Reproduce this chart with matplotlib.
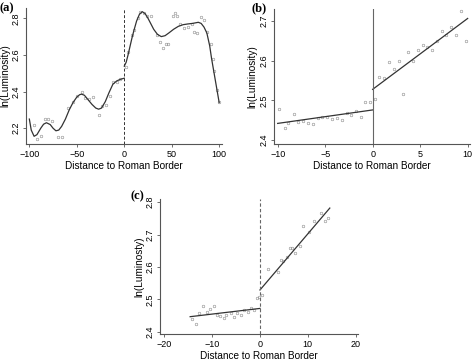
import numpy as np
import matplotlib.pyplot as plt

plt.rcParams['font.family'] = ['Liberation Sans', 'DejaVu Sans']

# ---- panel (a): full window, smoothed fit + binned means
a_pts_x = [-95, -92, -88, -84, -80, -76, -70, -66, -59, -54, -50, -45, -41, -37, -33,
           -27, -23, -19, -15, -12, -8, -4,
           2, 4, 8, 10, 14, 17, 21, 24, 28, 34, 38, 41, 44, 46, 51, 53, 56, 59,
           63, 67, 71, 74, 77, 81, 84, 87, 91, 93, 95, 98, 100]
a_pts_y = [2.22, 2.14, 2.155, 2.25, 2.25, 2.24, 2.15, 2.15, 2.31, 2.345, 2.376, 2.395, 2.364, 2.36, 2.37,
           2.27, 2.32, 2.327, 2.378, 2.455, 2.45, 2.47,
           2.536, 2.618, 2.71, 2.736, 2.8, 2.836, 2.83, 2.81, 2.81, 2.71, 2.67, 2.636, 2.66, 2.66,
           2.813, 2.83, 2.81, 2.77,
           2.745, 2.755, 2.77, 2.727, 2.72, 2.805, 2.79, 2.724, 2.66, 2.58, 2.51, 2.41, 2.345]
a_left_x = [-100, -98, -95, -92, -88, -85, -82, -78, -75, -72, -69, -66, -62, -58, -54,
            -50, -47, -45, -42, -38, -34, -30, -27, -24, -20, -16, -12, -8, -4, 0]
a_left_y = [2.25, 2.19, 2.156, 2.165, 2.2, 2.222, 2.23, 2.22, 2.2, 2.186, 2.19, 2.21, 2.25, 2.3, 2.34,
            2.37, 2.383, 2.386, 2.38, 2.355, 2.33, 2.31, 2.304, 2.31, 2.345, 2.395, 2.44, 2.458, 2.467, 2.473]
a_right_x = [0, 2, 4, 6, 8, 10, 13, 16, 19, 22, 25, 28, 31, 35, 39, 43, 47, 52, 57, 62,
             67, 72, 78, 81, 84, 87, 90, 92, 95, 98, 100]
a_right_y = [2.539, 2.56, 2.60, 2.645, 2.69, 2.73, 2.785, 2.822, 2.836, 2.825, 2.8, 2.77, 2.74,
             2.712, 2.70, 2.705, 2.72, 2.74, 2.756, 2.765, 2.769, 2.772, 2.778, 2.772, 2.752,
             2.72, 2.65, 2.58, 2.49, 2.40, 2.34]

# ---- panel (b): +/-10 window, linear fits
b_pts_x = [-9.86, -9.26, -8.9, -8.3, -7.85, -7.3, -6.8, -6.27, -5.8, -5.3, -4.8, -4.26, -3.8,
           -3.27, -2.75, -2.3, -1.8, -1.27, -0.77, -0.28,
           0.25, 0.7, 1.23, 1.76, 2.25, 2.75, 3.24, 3.77, 4.2, 4.75, 5.25, 5.77, 6.27, 6.76,
           7.29, 7.75, 8.27, 8.77, 9.3, 9.79]
b_pts_y = [2.478, 2.430, 2.444, 2.466, 2.446, 2.449, 2.442, 2.441, 2.455, 2.459, 2.459, 2.453, 2.455,
           2.451, 2.469, 2.462, 2.474, 2.459, 2.496, 2.496,
           2.503, 2.558, 2.556, 2.596, 2.579, 2.599, 2.517, 2.622, 2.599, 2.628, 2.639, 2.634,
           2.628, 2.649, 2.675, 2.665, 2.685, 2.666, 2.725, 2.651]
b_fit_left = ([-10, 0], [2.442, 2.476])
b_fit_right = ([0, 10], [2.528, 2.707])

# ---- panel (c): +/-15 window, linear fits
c_pts_x = [-14.2, -13.4, -12.7, -12.0, -11.1, -10.4, -9.7, -9.0, -8.3, -7.5, -7.0, -6.1, -5.4,
           -4.7, -4.0, -3.3, -2.6, -1.9, -1.25, -0.56,
           -0.14, 0.4, 1.74, 3.8, 4.3, 4.9, 5.6, 6.26, 6.8, 7.4, 8.3, 9.0, 10.3, 11.3, 12.7,
           13.6, 14.3]
c_pts_y = [2.438, 2.424, 2.459, 2.478, 2.46, 2.469, 2.481, 2.452, 2.449, 2.441, 2.452, 2.459, 2.447,
           2.459, 2.452, 2.467, 2.46, 2.474, 2.467, 2.503,
           2.508, 2.514, 2.594, 2.586, 2.622, 2.617, 2.63, 2.658, 2.66, 2.643, 2.664, 2.726,
           2.707, 2.741, 2.767, 2.741, 2.751]
c_fit_left = ([-14.6, 0], [2.4465, 2.472])
c_fit_right = ([0, 14.6], [2.529, 2.782])

LINE = "#333333"
DOT = "#8a8a8a"
SPINE = "#555555"


def estilo(ax, xticks, yticks, ylab):
    for s in ("top", "right"):
        ax.spines[s].set_visible(False)
    for s in ("left", "bottom"):
        ax.spines[s].set_color(SPINE)
        ax.spines[s].set_linewidth(0.8)
    ax.set_xticks(xticks)
    ax.set_yticks(yticks)
    ax.set_yticklabels([f"{v:.1f}" for v in yticks], rotation=90, va="center")
    ax.tick_params(labelsize=6.5, length=2.5, width=0.6, color=SPINE, pad=1.5)
    ax.set_xlabel("Distance to Roman Border", fontsize=7.2, labelpad=2)
    ax.set_ylabel(ylab, fontsize=7.2, labelpad=1)


fig = plt.figure(figsize=(4.74, 3.64), dpi=100)

ax_a = fig.add_axes([0.0549, 0.6044, 0.4135, 0.3736])
ax_a.plot(a_pts_x, a_pts_y, "o", ms=1.9, color=DOT, mec=DOT, mew=0.4, mfc="none")
ax_a.plot(a_left_x, a_left_y, color=LINE, lw=0.9)
ax_a.plot(a_right_x, a_right_y, color=LINE, lw=0.9)
ax_a.axvline(0, color=LINE, lw=0.7, ls=(0, (3, 2)))
ax_a.set_xlim(-103.5, 103)
ax_a.set_ylim(2.114, 2.856)
estilo(ax_a, [-100, -50, 0, 50, 100], [2.2, 2.4, 2.6, 2.8], "ln(Luminosity)")

ax_b = fig.add_axes([0.5774, 0.6044, 0.414, 0.371])
ax_b.plot(b_pts_x, b_pts_y, "o", ms=1.9, color=DOT, mec=DOT, mew=0.4, mfc="none")
ax_b.plot(*b_fit_left, color=LINE, lw=0.9)
ax_b.plot(*b_fit_right, color=LINE, lw=0.9)
ax_b.axvline(0, color="#666666", lw=0.8)
ax_b.set_xlim(-10.42, 10.24)
ax_b.set_ylim(2.39, 2.731)
estilo(ax_b, [-10, -5, 0, 5, 10], [2.4, 2.5, 2.6, 2.7], "ln(Luminosity)")

ax_c = fig.add_axes([0.3376, 0.0824, 0.4177, 0.3709])
ax_c.plot(c_pts_x, c_pts_y, "o", ms=1.9, color=DOT, mec=DOT, mew=0.4, mfc="none")
ax_c.plot(*c_fit_left, color=LINE, lw=0.9)
ax_c.plot(*c_fit_right, color=LINE, lw=0.9)
ax_c.axvline(0, color="#666666", lw=0.8, ls=(0, (3, 2)))
ax_c.set_xlim(-20.9, 20.5)
ax_c.set_ylim(2.393, 2.81)
estilo(ax_c, [-20, -10, 0, 10, 20], [2.4, 2.5, 2.6, 2.7, 2.8], "ln(Luminosty)")

painel = dict(fontsize=9, fontweight="bold", family="Liberation Serif")
fig.text(0.0, 0.995, "(a)", va="top", ha="left", **painel)
fig.text(0.53, 0.995, "(b)", va="top", ha="left", **painel)
fig.text(0.276, 0.478, "(c)", va="top", ha="left", **painel)

fig.savefig("out.png", dpi=100)
